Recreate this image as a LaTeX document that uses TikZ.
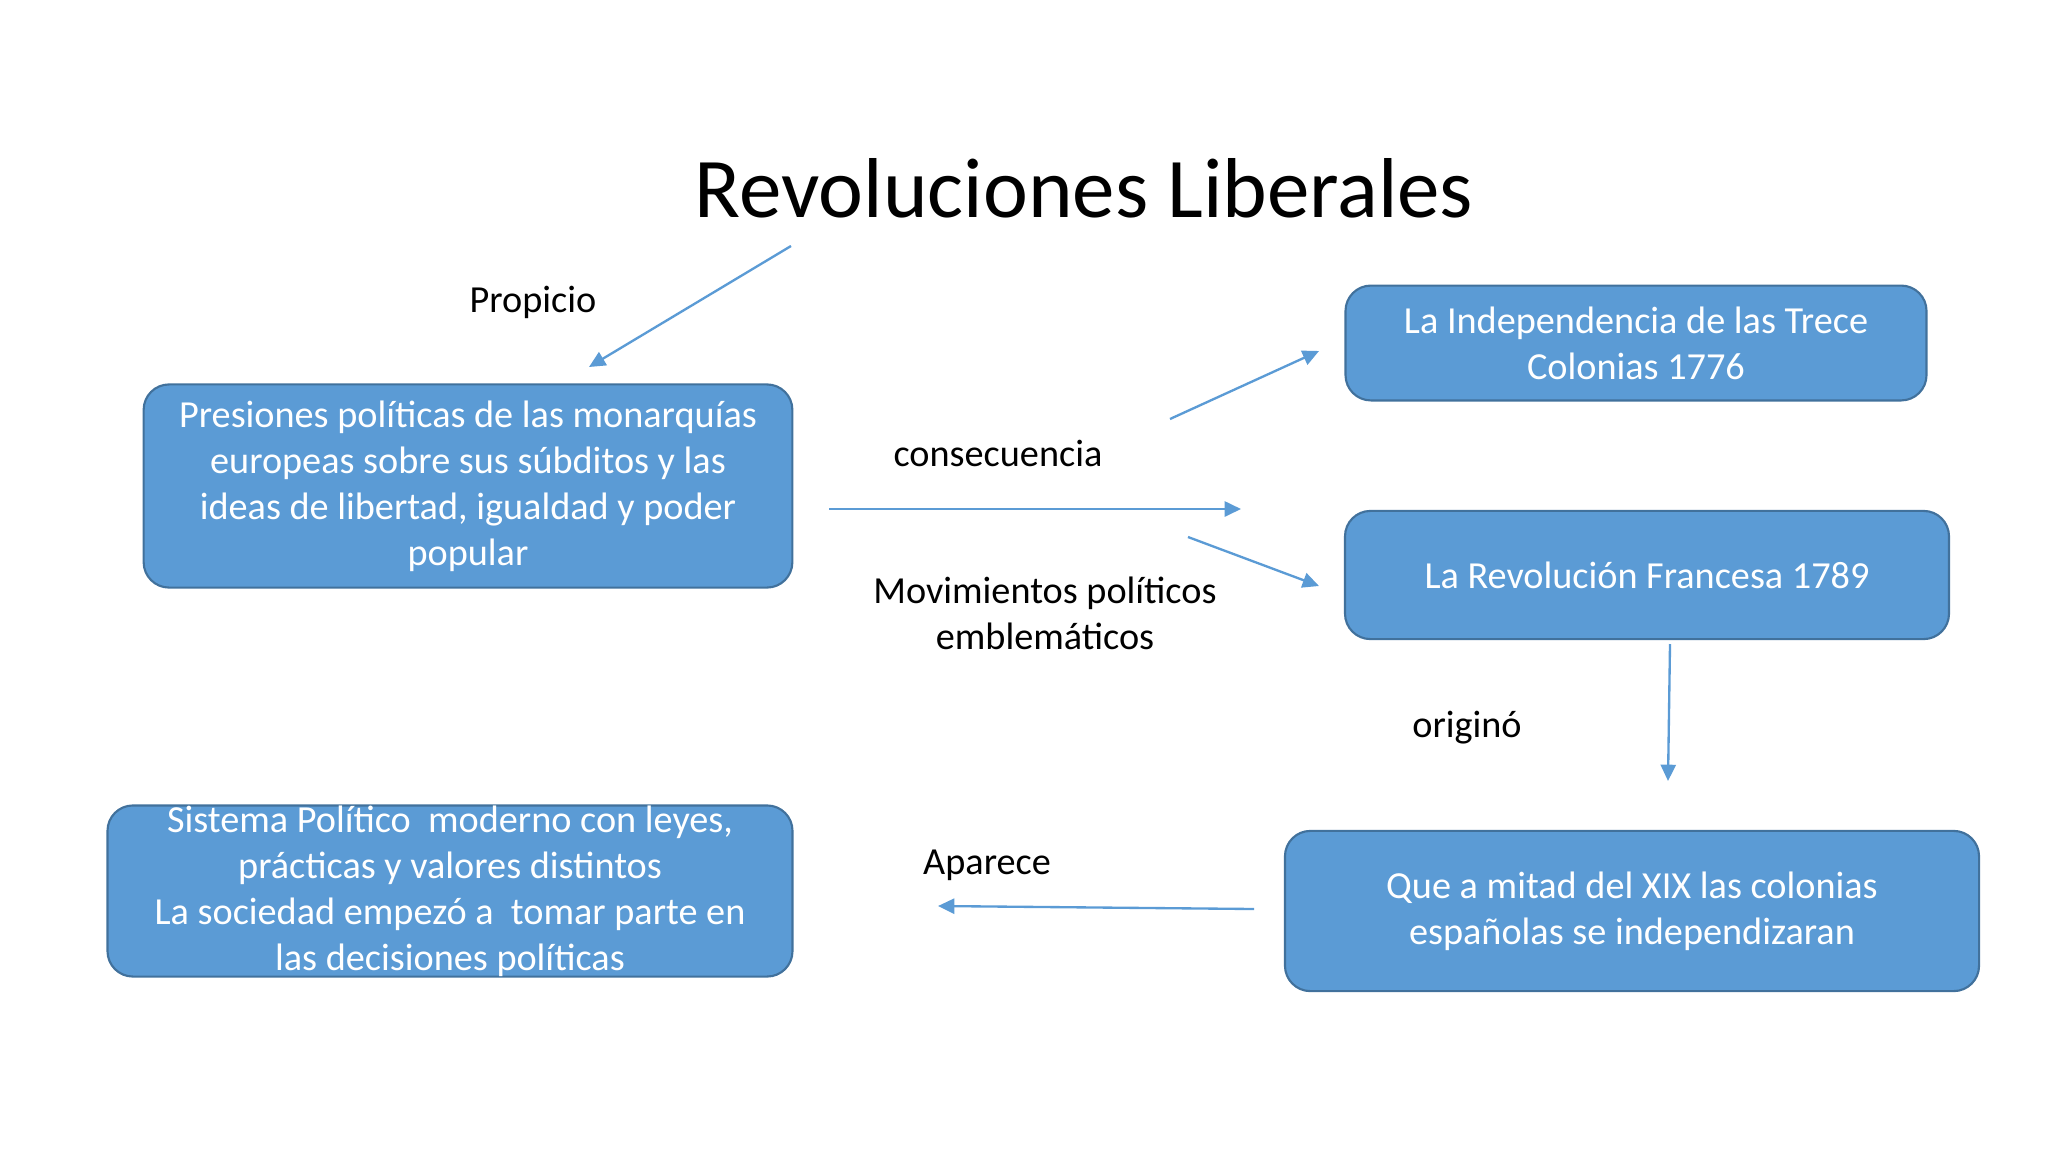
\documentclass[tikz,border=0pt]{standalone}
\usepackage{fontspec}
\setmainfont{Carlito}
\usetikzlibrary{arrows.meta}
\definecolor{boxblue}{HTML}{5B9BD5}
\definecolor{boxline}{HTML}{41719C}

\begin{document}
\begin{tikzpicture}[x=0.016536cm,y=-0.016536cm,
    -{Triangle[length=0.27cm,width=0.25cm]},
    every edge/.style={draw=boxblue,line width=1.1pt},
    concept/.style={draw=boxline,line width=1pt,fill=boxblue,rounded corners=0.42cm,
        text=white,align=center,inner sep=0pt,font=\fontsize{18}{21.6}\selectfont},
    lbl/.style={text=black,align=center,font=\fontsize{18}{21.6}\selectfont}]
        \useasboundingbox (0,0) rectangle (2048,1152);

        \node[font=\fontsize{40}{48}\selectfont] (titulo) at (1084,188) {Revoluciones Liberales};

        \node[concept,minimum width=10.73cm,minimum height=3.36cm] (presiones) at (468,486)
            {Presiones políticas de las monarquías\\europeas sobre sus súbditos y las\\ideas de libertad, igualdad y poder\\popular};
        \node[concept,minimum width=9.61cm,minimum height=1.90cm] (trece) at (1636,343)
            {La Independencia de las Trece\\Colonias 1776};
        \node[concept,minimum width=9.99cm,minimum height=2.12cm] (francesa) at (1647,575)
            {La Revolución Francesa 1789};
        \node[concept,minimum width=11.48cm,minimum height=2.65cm] (colonias) at (1632,911)
            {Que a mitad del XIX las colonias\\españolas se independizaran};
        \node[concept,minimum width=11.33cm,minimum height=2.83cm] (sistema) at (450,891)
            {Sistema Político\ \ moderno con leyes,\\prácticas y valores distintos\\La sociedad empezó a\ \ tomar parte en\\las decisiones políticas};

        \node[lbl] (propicio) at (533,302) {Propicio};
        \node[lbl] (consec) at (998,453) {consecuencia};
        \node[lbl] (movim) at (1045,613) {Movimientos políticos\\emblemáticos};
        \node[lbl] (origino) at (1467,728) {originó};
        \node[lbl] (aparece) at (987,865) {Aparece};

        \coordinate (p1) at (791,246);  \coordinate (p2) at (589,367);
        \coordinate (c1) at (829,509);  \coordinate (c2) at (1241,509);
        \coordinate (t1) at (1170,419); \coordinate (t2) at (1319,351);
        \coordinate (f1) at (1188,537); \coordinate (f2) at (1319,586);
        \coordinate (o1) at (1670,644); \coordinate (o2) at (1668,781);
        \coordinate (a1) at (1254,909); \coordinate (a2) at (938,906);

        \path (p1) edge (p2)
        (c1) edge (c2)
        (t1) edge (t2)
        (f1) edge (f2)
        (o1) edge (o2)
        (a1) edge (a2);
    \end{tikzpicture}
\end{document}
